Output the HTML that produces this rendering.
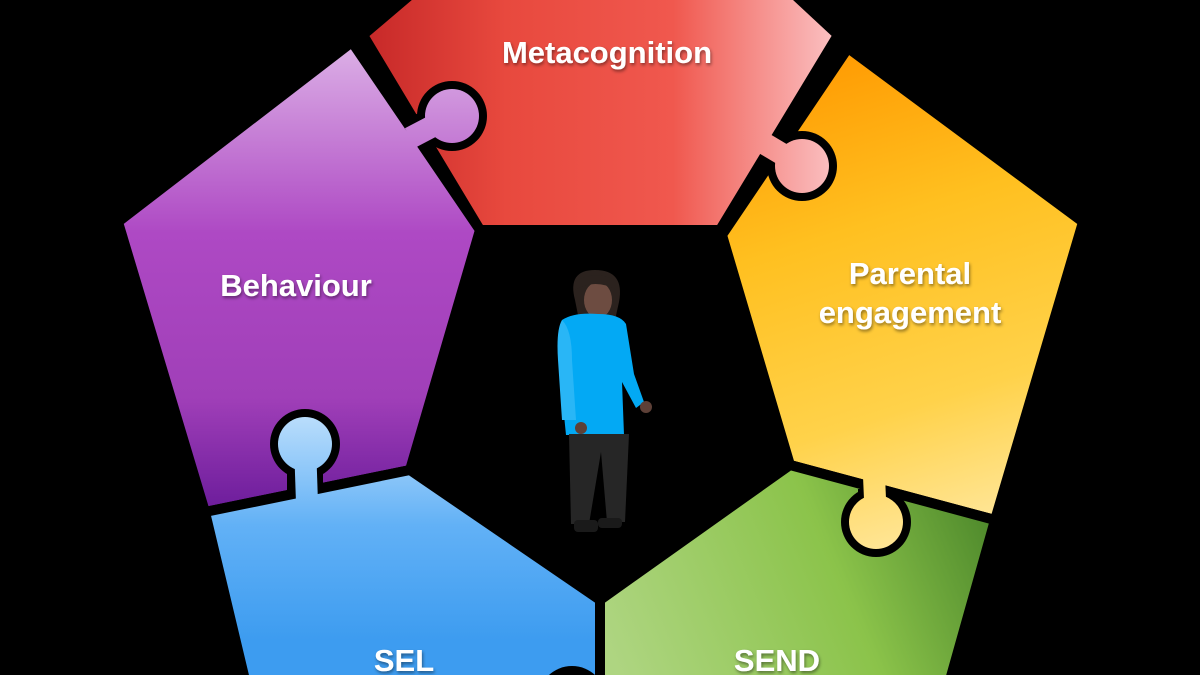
<!DOCTYPE html>
<html><head><meta charset="utf-8"><style>
html,body{margin:0;padding:0;background:#000;width:1200px;height:675px;overflow:hidden;}
svg{display:block;}
text{font-family:"Liberation Sans",sans-serif;font-weight:bold;fill:#fff;font-size:31px;text-anchor:middle;}
</style></head><body>
<svg width="1200" height="675" viewBox="0 0 1200 675" xmlns="http://www.w3.org/2000/svg">
<defs>
<linearGradient id="gr" gradientUnits="userSpaceOnUse" x1="363" y1="0" x2="840" y2="0">
<stop offset="0" stop-color="#c62828"/><stop offset="0.3" stop-color="#e8493e"/><stop offset="0.65" stop-color="#f0584e"/><stop offset="1" stop-color="#fbc4c6"/></linearGradient>
<linearGradient id="gp" gradientUnits="userSpaceOnUse" x1="0" y1="45" x2="0" y2="515">
<stop offset="0" stop-color="#dcb0e6"/><stop offset="0.4" stop-color="#ae49c4"/><stop offset="0.75" stop-color="#a03fb8"/><stop offset="1" stop-color="#6a1b9a"/></linearGradient>
<linearGradient id="go" gradientUnits="userSpaceOnUse" x1="800" y1="50" x2="960" y2="560">
<stop offset="0" stop-color="#ff9800"/><stop offset="0.35" stop-color="#ffc020"/><stop offset="0.7" stop-color="#ffd24a"/><stop offset="1" stop-color="#ffeaa8"/></linearGradient>
<linearGradient id="gg" gradientUnits="userSpaceOnUse" x1="620" y1="675" x2="990" y2="520">
<stop offset="0" stop-color="#aed581"/><stop offset="0.6" stop-color="#8bc34a"/><stop offset="1" stop-color="#4f8a2c"/></linearGradient>
<linearGradient id="gb" gradientUnits="userSpaceOnUse" x1="0" y1="410" x2="0" y2="640">
<stop offset="0" stop-color="#bfe0fc"/><stop offset="0.5" stop-color="#62b1f6"/><stop offset="1" stop-color="#3d9cf0"/></linearGradient>
<filter id="sh" x="-10%" y="-30%" width="120%" height="160%"><feDropShadow dx="1" dy="2" stdDeviation="1.5" flood-color="#000" flood-opacity="0.45"/></filter>
</defs>
<g stroke="#000" stroke-width="10" stroke-linejoin="round">
<polygon fill="url(#gr)" points="363,35 410,-5 795,-5 838,35 720,230 480,230"/>
<polygon fill="url(#gp)" points="352,42 118,222 205,512 410,470 480,230"/>
<polygon fill="url(#go)" points="848,48 1083,222 995,520 790,465 722,235"/>
<polygon fill="url(#gb)" points="205,512 410,470 600,600 600,680 245,680"/>
<polygon fill="url(#gg)" points="600,600 790,465 995,520 950,680 600,680"/>
</g>
<g>
<line x1="452" y1="116" x2="421" y2="132" stroke="#000" stroke-width="36"/>
<circle cx="452" cy="116" r="35" fill="#000"/>
<line x1="452" y1="116" x2="410" y2="138" stroke="url(#gp)" stroke-width="22"/>
<circle cx="452" cy="116" r="27" fill="url(#gp)"/>

<line x1="802" y1="166" x2="770" y2="147" stroke="#000" stroke-width="36"/>
<circle cx="802" cy="166" r="35" fill="#000"/>
<line x1="802" y1="166" x2="760" y2="141" stroke="url(#gr)" stroke-width="22"/>
<circle cx="802" cy="166" r="27" fill="url(#gr)"/>

<line x1="876" y1="522" x2="876" y2="489" stroke="#000" stroke-width="36"/>
<circle cx="876" cy="522" r="35" fill="#000"/>
<line x1="876" y1="522" x2="874" y2="476" stroke="url(#go)" stroke-width="22"/>
<circle cx="876" cy="522" r="27" fill="url(#go)"/>

<line x1="305" y1="444" x2="305" y2="491" stroke="#000" stroke-width="36"/>
<circle cx="305" cy="444" r="35" fill="#000"/>
<line x1="305" y1="444" x2="307" y2="503" stroke="url(#gb)" stroke-width="22"/>
<circle cx="305" cy="444" r="27" fill="url(#gb)"/>

<circle cx="572" cy="700" r="34" fill="#000"/>
</g>
<g>
<path d="M575,300 q-8,-30 20,-30 q30,0 24,32 l-4,18 h-36 z" fill="#2b221e"/>
<ellipse cx="598" cy="300" rx="14" ry="18" fill="#6d4c41"/>
<path d="M575,290 q20,-12 42,0 l0,-8 q-20,-14 -42,0 z" fill="#2b221e"/>
<path d="M562,320 q12,-8 36,-6 q22,0 28,10 l8,50 l10,28 l-8,6 l-14,-26 l2,53 h-58 l-6,-60 z" fill="#03a9f4"/>
<path d="M562,320 q-6,10 -4,40 l4,60 l14,0 l-4,-60 q0,-30 -10,-40 z" fill="#29b6f6"/>
<circle cx="581" cy="428" r="6" fill="#5d4037"/>
<circle cx="646" cy="407" r="6" fill="#5d4037"/>
<path d="M569,434 h60 l-4,88 h-18 l-6,-70 l-12,72 h-18 z" fill="#262626"/>
<rect x="574" y="520" width="24" height="12" rx="4" fill="#1a1a1a"/>
<rect x="598" y="518" width="24" height="10" rx="4" fill="#1a1a1a"/>
</g>
<g filter="url(#sh)">
<text x="607" y="63">Metacognition</text>
<text x="296" y="296">Behaviour</text>
<text x="910" y="284">Parental</text>
<text x="910" y="323">engagement</text>
<text x="404" y="671">SEL</text>
<text x="777" y="671">SEND</text>
</g>
</svg>
</body></html>
